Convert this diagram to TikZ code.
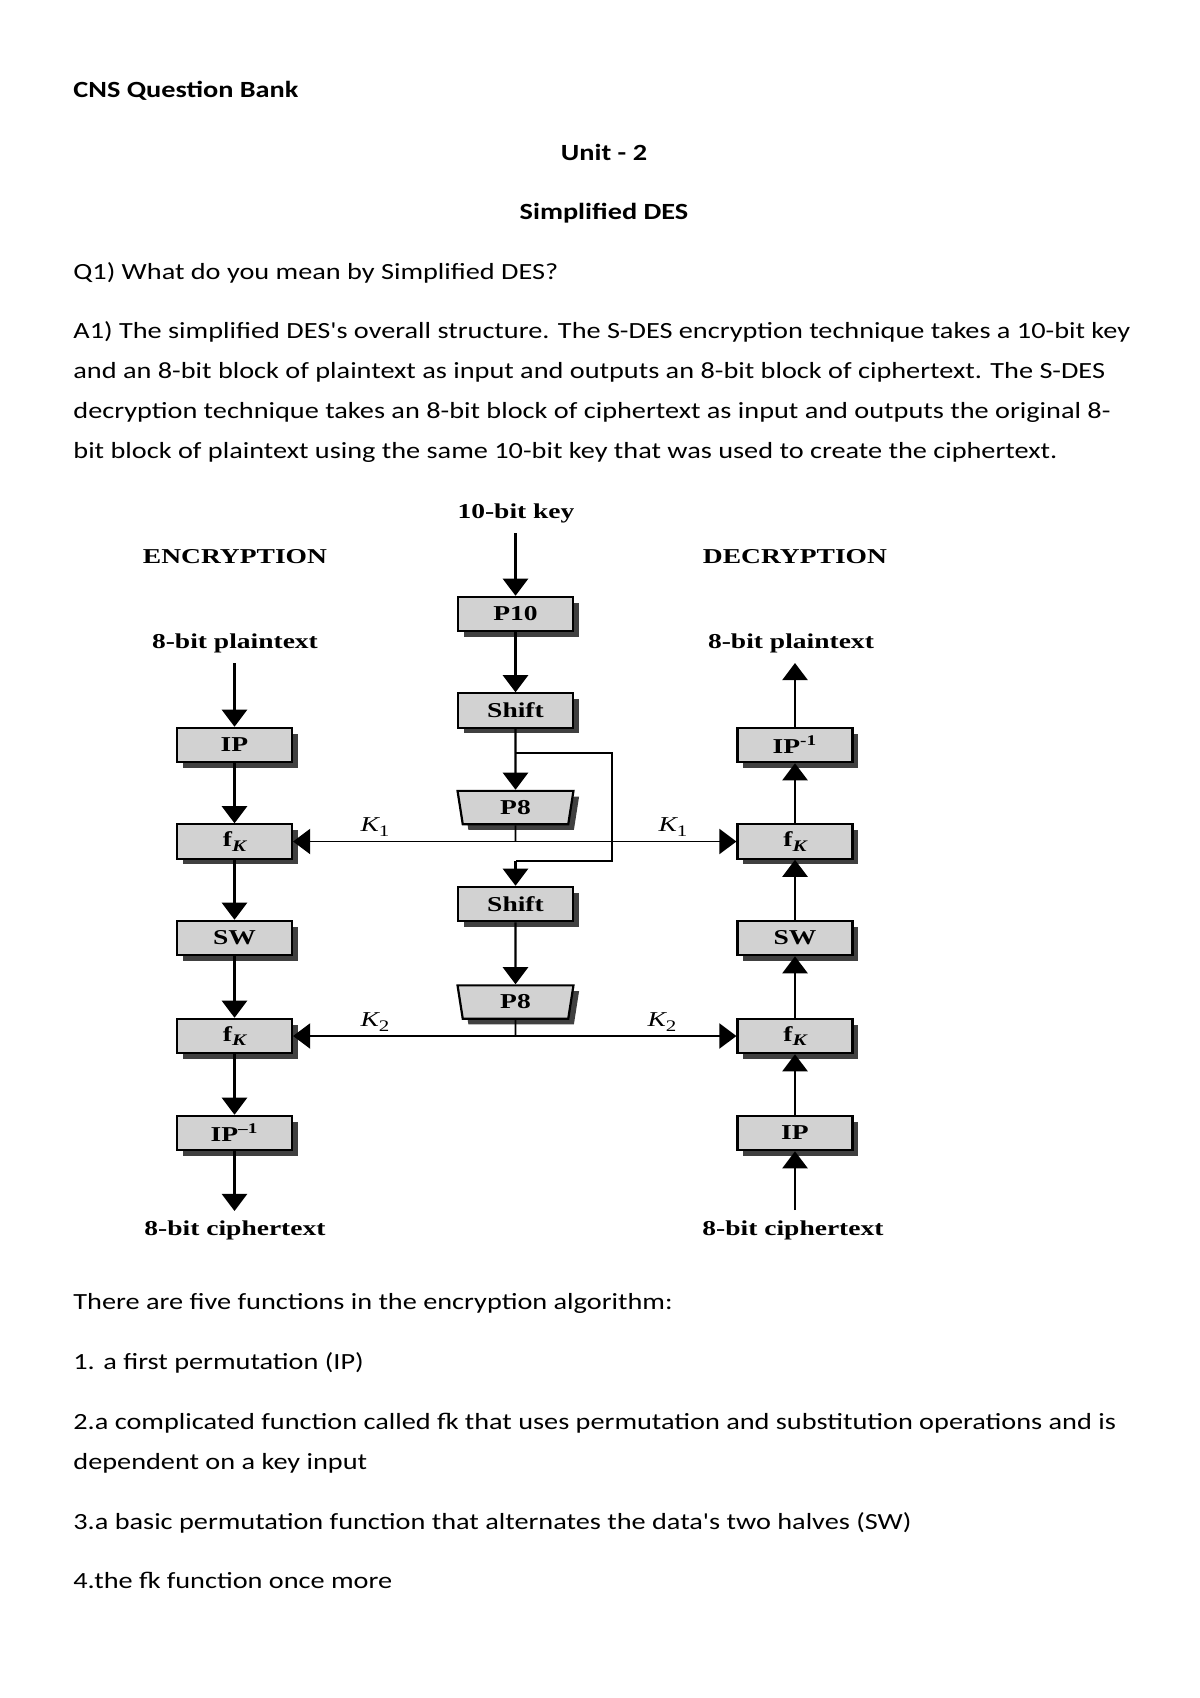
\documentclass[tikz,border=0pt]{standalone}
\usepackage{fontspec}
\usetikzlibrary{arrows.meta,shapes.geometric,shadows}
\setmainfont{Carlito}
\newfontfamily\bodyfont[FakeStretch=1.22]{Carlito}
\newfontfamily\dfont[FakeStretch=1.3]{Liberation Serif}
\newcommand\fk{f\raisebox{-0.45ex}{\footnotesize\itshape K}}
\newcommand\kk[1]{{\itshape K}\raisebox{-0.45ex}{\footnotesize #1}}
\tikzset{
  body/.style={anchor=base west,inner sep=0pt,font=\bodyfont\fontsize{11.5}{14}\selectfont},
  bodyc/.style={anchor=base,inner sep=0pt,font=\bodyfont\fontsize{11.5}{14}\selectfont\bfseries},
  dlabel/.style={inner sep=0pt,font=\dfont\fontsize{10.5}{12}\selectfont\bfseries},
  klabel/.style={inner sep=0pt,font=\dfont\fontsize{10.5}{12}\selectfont},
  boxs/.style={draw=black,line width=1.1pt,fill=gray!35,minimum width=57pt,minimum height=17pt,inner sep=0pt,
    font=\dfont\fontsize{10.5}{12}\selectfont\bfseries,
    drop shadow={shadow xshift=2.8pt,shadow yshift=-2.8pt,fill=black!75,opacity=1}},
  trap/.style={boxs,shape=trapezium,shape border rotate=180,trapezium angle=70,trapezium stretches body=true,minimum width=57.5pt,minimum height=16.5pt},
  arr/.style={line width=1.1pt,-{Triangle[width=12.5pt,length=8.5pt]}},
  kline/.style={line width=0.8pt},
  bline/.style={line width=0.7pt}
}
\begin{document}
\begin{tikzpicture}[x=0.49606pt,y=-0.49606pt]
\useasboundingbox[fill=white] (0,0) rectangle (1200,1698);
% header text
\node[body,font=\bodyfont\fontsize{11.5}{14}\selectfont\bfseries] (t1) at (73,97) {CNS Question Bank};
\node[bodyc] (t2) at (604,160) {Unit - 2};
\node[bodyc] (t3) at (604,219) {Simplified DES};
\node[body] (t4) at (73,279) {Q1) What do you mean by Simplified DES?};
\node[body] (t5) at (73,338) {A1) The simplified DES's overall structure. The S-DES encryption technique takes a 10-bit key};
\node[body] (t6) at (73,378) {and an 8-bit block of plaintext as input and outputs an 8-bit block of ciphertext. The S-DES};
\node[body] (t7) at (73,418) {decryption technique takes an 8-bit block of ciphertext as input and outputs the original 8-};
\node[body] (t8) at (73,458) {bit block of plaintext using the same 10-bit key that was used to create the ciphertext.};
% bottom text
\node[body] (b1) at (73,1309) {There are five functions in the encryption algorithm:};
\node[body] (b2) at (73,1369) {1. a first permutation (IP)};
\node[body] (b3) at (73,1429) {2.a complicated function called fk that uses permutation and substitution operations and is};
\node[body] (b4) at (73,1469) {dependent on a key input};
\node[body] (b5) at (73,1529) {3.a basic permutation function that alternates the data's two halves (SW)};
\node[body] (b6) at (73,1588) {4.the fk function once more};
% diagram labels
\node[dlabel] (key) at (516,513) {10-bit key};
\node[dlabel] (enc) at (235,557) {ENCRYPTION};
\node[dlabel] (dec) at (795,557) {DECRYPTION};
\node[dlabel] (ept) at (235,643) {8-bit plaintext};
\node[dlabel] (dpt) at (791,643) {8-bit plaintext};
\node[dlabel] (ect) at (235,1230) {8-bit ciphertext};
\node[dlabel] (dct) at (793,1230) {8-bit ciphertext};
% key schedule
\node[boxs] (p10) at (515.5,614) {P10};
\node[boxs] (s1) at (515.5,710.5) {Shift};
\node[trap] (p8a) at (515.5,807.5) {P8};
\node[boxs] (s2) at (515.5,904) {Shift};
\node[trap] (p8b) at (515.5,1002) {P8};
% encryption column
\node[boxs] (eip) at (234.5,745) {IP};
\node[boxs] (ef1) at (234.5,841.5) {\fk};
\node[boxs] (esw) at (234.5,938) {SW};
\node[boxs] (ef2) at (234.5,1036) {\fk};
\node[boxs] (eipi) at (234.5,1133) {IP\textsuperscript{–1}};
% decryption column
\node[boxs] (dipi) at (795,745) {IP\textsuperscript{-1}};
\node[boxs] (df1) at (795,841.5) {\fk};
\node[boxs] (dsw) at (795,938) {SW};
\node[boxs] (df2) at (795,1036) {\fk};
\node[boxs] (dip) at (795,1133) {IP};
% K labels
\node[klabel] (k1l) at (375,827) {\kk{1}};
\node[klabel] (k1r) at (673,827) {\kk{1}};
\node[klabel] (k2l) at (375,1022) {\kk{2}};
\node[klabel] (k2r) at (662,1022) {\kk{2}};
% coordinates
\coordinate (keytop) at (515.5,533);
\coordinate (epttop) at (234.5,663);
\coordinate (dpttop) at (795,663);
\coordinate (ectbot) at (234.5,1211);
\coordinate (dctbot) at (795,1210);
\coordinate (br1) at (515.5,753);
\coordinate (br2) at (612,753);
\coordinate (br3) at (612,861);
\coordinate (br4) at (515.5,861);
\coordinate (kj1) at (515.5,841.5);
\coordinate (kj2) at (515.5,1036);
% key arrows
\draw[arr] (keytop) -- (p10.north);
\draw[arr] (p10.south) -- (s1.north);
\draw[arr] (s1.south) -- (p8a.north);
\draw[bline] (br1) -- (br2) -- (br3) -- (br4);
\draw[arr] (br4) -- (s2.north);
\draw[arr] (s2.south) -- (p8b.north);
\draw[kline] (p8a.south) -- (kj1);
\draw[kline] (p8b.south) -- (kj2);
\draw[kline,-{Triangle[width=12.5pt,length=8.5pt]}] (kj1) -- (ef1.east);
\draw[kline,-{Triangle[width=12.5pt,length=8.5pt]}] (kj1) -- (df1.west);
\draw[kline,-{Triangle[width=12.5pt,length=8.5pt]}] (kj2) -- (ef2.east);
\draw[kline,-{Triangle[width=12.5pt,length=8.5pt]}] (kj2) -- (df2.west);
% encryption arrows
\draw[arr] (epttop) -- (eip.north);
\draw[arr] (eip.south) -- (ef1.north);
\draw[arr] (ef1.south) -- (esw.north);
\draw[arr] (esw.south) -- (ef2.north);
\draw[arr] (ef2.south) -- (eipi.north);
\draw[arr] (eipi.south) -- (ectbot);
% decryption arrows
\draw[arr] (dctbot) -- (dip.south);
\draw[arr] (dip.north) -- (df2.south);
\draw[arr] (df2.north) -- (dsw.south);
\draw[arr] (dsw.north) -- (df1.south);
\draw[arr] (df1.north) -- (dipi.south);
\draw[arr] (dipi.north) -- (dpttop);
\end{tikzpicture}
\end{document}
